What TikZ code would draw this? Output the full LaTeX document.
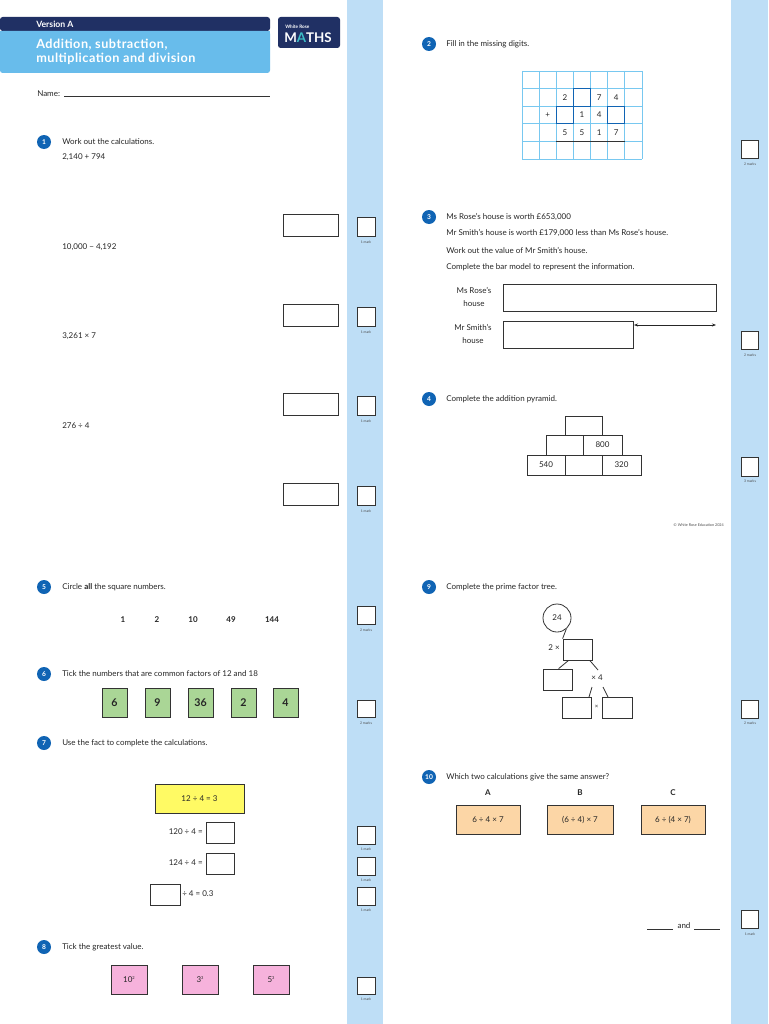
\documentclass[tikz,border=0pt]{standalone}
\usepackage{fontspec}
\setmainfont{Lato}
\usetikzlibrary{arrows.meta}
\begin{document}
\begin{tikzpicture}[x=0.75pt,y=-0.75pt,
  txt/.style={font=\fontsize{6}{7}\selectfont,anchor=west,inner sep=0pt,text=black!85},
  qnum/.style={circle,fill=qblue,text=white,font=\fontsize{5}{6}\selectfont\bfseries,minimum size=10.5pt,inner sep=0pt},
  markbox/.style={draw=black!80,line width=0.6pt,fill=white},
  marktxt/.style={font=\fontsize{2.6}{3}\selectfont,inner sep=0pt,text=black!70},
  ansbox/.style={draw=black!80,line width=0.6pt,fill=white},
  pbox/.style={draw=black!80,line width=0.6pt},
  tline/.style={draw=black!80,line width=0.6pt},
  ctr/.style={font=\fontsize{6}{7}\selectfont,inner sep=0pt,text=black!85}]
\definecolor{qblue}{RGB}{16,100,180}
\definecolor{strip}{RGB}{190,222,246}
\definecolor{navy}{RGB}{32,48,100}
\definecolor{lblue}{RGB}{104,188,235}
\definecolor{gridc}{RGB}{120,200,240}
\definecolor{gfill}{RGB}{170,214,150}
\definecolor{yfill}{RGB}{255,250,100}
\definecolor{pfill}{RGB}{246,178,220}
\definecolor{ofill}{RGB}{252,214,166}
\definecolor{teal}{RGB}{60,190,200}
\useasboundingbox (0,0) rectangle (768,1024);
\fill[white] (0,0) rectangle (768,1024);
\fill[strip] (347,0) rectangle (383,1024);
\fill[strip] (731,0) rectangle (768,1024);
% header
\fill[navy,rounded corners=2pt] (0,17) rectangle (270,31);
\fill[lblue,rounded corners=2pt] (0,31) rectangle (270,73);
\fill[lblue] (0,31) rectangle (270,40);
\node[anchor=west,inner sep=0pt,text=white,font=\fontsize{6.5}{7}\selectfont\bfseries] (ver) at (36,24) {Version A};
\node[anchor=west,inner sep=0pt,text=white,font=\fontsize{9.5}{10.5}\selectfont\bfseries,align=left] (title) at (36,52) {\addfontfeatures{LetterSpace=4}Addition, subtraction,\\\addfontfeatures{LetterSpace=4}multiplication and division};
\fill[navy,rounded corners=2pt] (278,17) rectangle (340,48);
\node[inner sep=0pt,text=white,font=\fontsize{3.5}{4}\selectfont\bfseries,anchor=west] (wr) at (285,27) {White Rose};
\node[inner sep=0pt,text=white,font=\fontsize{10}{11}\selectfont\bfseries,anchor=west] (maths) at (284,37.5) {M\textcolor{teal}{A}THS};
\node[txt] (name) at (37,94) {Name:};
\draw[black!80,line width=0.6pt] (64,96) -- (270,96);
% Q1
\node[qnum] (q1) at (44,142) {1};
\node[txt] at (62,142) {Work out the calculations.};
\foreach \t/\y in {{2,140 + 794}/157,{10,000 − 4,192}/247,{3,261 × 7}/336,{276 ÷ 4}/426} \node[txt] at (62,\y) {\t};
\foreach \y in {214,304,393,483} {
  \draw[ansbox] (283,\y) rectangle (338,\y+22);
  \draw[markbox] (357,\y+3) rectangle (375,\y+22);
  \node[marktxt] at (366,\y+28) {1 mark};}
% Q2
\node[qnum] (q2) at (429,44) {2};
\node[txt] at (446,44) {Fill in the missing digits.};
\foreach \i in {0,...,7} \draw[gridc,line width=0.6pt] (522+\i*17.14,71) -- (522+\i*17.14,159);
\foreach \j in {0,...,5} \draw[gridc,line width=0.6pt] (522,71+\j*17.6) -- (642,71+\j*17.6);
\draw[qblue,line width=0.7pt] (522+3*17.14,71+17.6) rectangle (522+4*17.14,71+2*17.6);
\draw[qblue,line width=0.7pt] (522+2*17.14,71+2*17.6) rectangle (522+3*17.14,71+3*17.6);
\draw[qblue,line width=0.7pt] (522+5*17.14,71+2*17.6) rectangle (522+6*17.14,71+3*17.6);
\draw[black!80,line width=0.7pt] (522+2*17.14,71+4*17.6) -- (522+6*17.14,71+4*17.6);
\foreach \c/\r/\t in {2/1/2,4/1/7,5/1/4,1/2/+,3/2/1,4/2/4,2/3/5,3/3/5,4/3/1,5/3/7}
  \node[ctr] at ({522+\c*17.14+8.57},{71+\r*17.6+8.8}) {\t};
\draw[markbox] (741,140) rectangle (758,158);
\node[marktxt] at (750,164) {2 marks};
% Q3
\node[qnum] (q3) at (429,217) {3};
\node[txt] at (446,217) {Ms Rose’s house is worth £653,000};
\node[txt] at (446,233) {Mr Smith’s house is worth £179,000 less than Ms Rose’s house.};
\node[txt] at (446,250) {Work out the value of Mr Smith’s house.};
\node[txt] at (446,267) {Complete the bar model to represent the information.};
\node[ctr,align=center,font=\fontsize{6}{9.75}\selectfont] at (474,297) {Ms Rose’s\\house};
\node[ctr,align=center,font=\fontsize{6}{9.75}\selectfont] at (473,334) {Mr Smith’s\\house};
\draw[pbox] (503,284) rectangle (716,311);
\draw[pbox] (503,321) rectangle (633,348);
\coordinate (a1) at (634,325); \coordinate (a2) at (716,325);
\draw[black!85,line width=0.5pt,{Stealth[length=3pt]}-{Stealth[length=3pt]}] (a1) -- (a2);
\draw[markbox] (741,331) rectangle (758,349);
\node[marktxt] at (750,355) {2 marks};
% Q4
\node[qnum] (q4) at (429,399) {4};
\node[txt] at (446,399) {Complete the addition pyramid.};
\draw[pbox] (565,416) rectangle (602,435);
\draw[pbox] (546,435) rectangle (583,455);
\draw[pbox] (583,435) rectangle (622,455) node[midway,ctr] {800};
\draw[pbox] (527,455) rectangle (565,475) node[midway,ctr] {540};
\draw[pbox] (565,455) rectangle (602,475);
\draw[pbox] (602,455) rectangle (641,475) node[midway,ctr] {320};
\draw[markbox] (741,457) rectangle (758,476);
\node[marktxt] at (750,481) {3 marks};
\node[font=\fontsize{2.8}{3}\selectfont,anchor=east,inner sep=0pt,text=black!70] at (724,525) {© White Rose Education 2024};
% Q5
\node[qnum] (q5) at (44,587) {5};
\node[txt] at (62,587) {Circle \textbf{all} the square numbers.};
\foreach \x/\t in {123/1,157/2,193/10,231/49,272/144} \node[ctr,font=\fontsize{6}{7}\selectfont\bfseries] at (\x,620) {\t};
\draw[markbox] (357,606) rectangle (375,624);
\node[marktxt] at (366,630) {2 marks};
% Q6
\node[qnum] (q6) at (44,674) {6};
\node[txt] at (62,674) {Tick the numbers that are common factors of 12 and 18};
\foreach \x/\t in {102/6,145/9,188/36,231/2,273/4} {
  \draw[pbox,fill=gfill] (\x,688) rectangle (\x+25,717);
  \node[ctr,font=\fontsize{8}{9}\selectfont\bfseries] at (\x+12.5,702.5) {\t};}
\draw[markbox] (357,700) rectangle (375,717);
\node[marktxt] at (366,723) {2 marks};
% Q7
\node[qnum] (q7) at (44,743) {7};
\node[txt] at (62,743) {Use the fact to complete the calculations.};
\draw[pbox,fill=yfill] (155,784) rectangle (244,813);
\node[ctr] at (199.5,798.5) {12 ÷ 4 = 3};
\node[ctr,anchor=east] at (203,832) {120 ÷ 4 =};
\draw[ansbox] (206,822) rectangle (234,843);
\node[ctr,anchor=east] at (203,863) {124 ÷ 4 =};
\draw[ansbox] (206,853) rectangle (234,874);
\draw[ansbox] (150,884) rectangle (180,905);
\node[ctr,anchor=west] at (182,894) {÷ 4 = 0.3};
\foreach \y in {826,857,887} {
  \draw[markbox] (357,\y) rectangle (375,\y+18);
  \node[marktxt] at (366,\y+23) {1 mark};}
% Q8
\node[qnum] (q8) at (44,947) {8};
\node[txt] at (62,947) {Tick the greatest value.};
\foreach \x/\t in {111/{10\raisebox{2pt}{\fontsize{3}{3}\selectfont 2}},182/{3\raisebox{2pt}{\fontsize{3}{3}\selectfont 3}},253/{5\raisebox{2pt}{\fontsize{3}{3}\selectfont 3}}} {
  \draw[pbox,fill=pfill] (\x,965) rectangle (\x+36,994);
  \node[ctr] at (\x+18,979.5) {\t};}
\draw[markbox] (357,977) rectangle (375,994);
\node[marktxt] at (366,999) {1 mark};
% Q9
\node[qnum] (q9) at (429,587) {9};
\node[txt] at (446,587) {Complete the prime factor tree.};
\node[circle,draw=black!80,line width=0.6pt,minimum size=21pt,inner sep=0pt,ctr] (c24) at (557,618) {24};
\node[pbox,minimum width=21.75pt,minimum height=15.75pt,inner sep=0pt] (b1) at (577.5,649.5) {};
\node[ctr,anchor=east] at (560,648) {2 ×};
\node[pbox,minimum width=21.75pt,minimum height=15.75pt,inner sep=0pt] (b2) at (557.5,679.5) {};
\node[ctr] (x4) at (597,678) {× 4};
\node[pbox,minimum width=21.75pt,minimum height=15.75pt,inner sep=0pt] (b3) at (576.5,707.5) {};
\node[pbox,minimum width=22.5pt,minimum height=15.75pt,inner sep=0pt] (b4) at (617,707.5) {};
\node[ctr,font=\fontsize{4.5}{5}\selectfont] at (596.5,707) {×};
\coordinate (j1) at (598,670); \coordinate (j2) at (592,687); \coordinate (j3) at (589,697);
\coordinate (j4) at (603,687); \coordinate (j5) at (608,697);
\draw[tline] (c24.-50) -- (b1.north west);
\draw[tline] ([xshift=4.5pt]b1.south west) -- ([xshift=12pt]b2.north west);
\draw[tline] ([xshift=-2pt]b1.south east) -- (j1);
\draw[tline] (j2) -- (j3);
\draw[tline] (j4) -- (j5);
\draw[markbox] (741,700) rectangle (758,718);
\node[marktxt] at (750,723) {2 marks};
% Q10
\node[qnum] (q10) at (429,777) {10};
\node[txt] at (446,777) {Which two calculations give the same answer?};
\foreach \x/\w/\l/\t in {456/64/A/{6 ÷ 4 × 7},547/66/B/{(6 ÷ 4) × 7},641/64/C/{6 ÷ (4 × 7)}} {
  \node[ctr,font=\fontsize{6}{7}\selectfont\bfseries] at (\x+\w/2,793) {\l};
  \draw[pbox,fill=ofill] (\x,805) rectangle (\x+\w,834);
  \node[ctr] at (\x+\w/2,819.5) {\t};}
\draw[black!80,line width=0.5pt] (647,929) -- (673,929);
\node[ctr] at (684,926) {and};
\draw[black!80,line width=0.5pt] (694,929) -- (720,929);
\draw[markbox] (741,910) rectangle (758,928);
\node[marktxt] at (750,934) {1 mark};
\end{tikzpicture}
\end{document}
